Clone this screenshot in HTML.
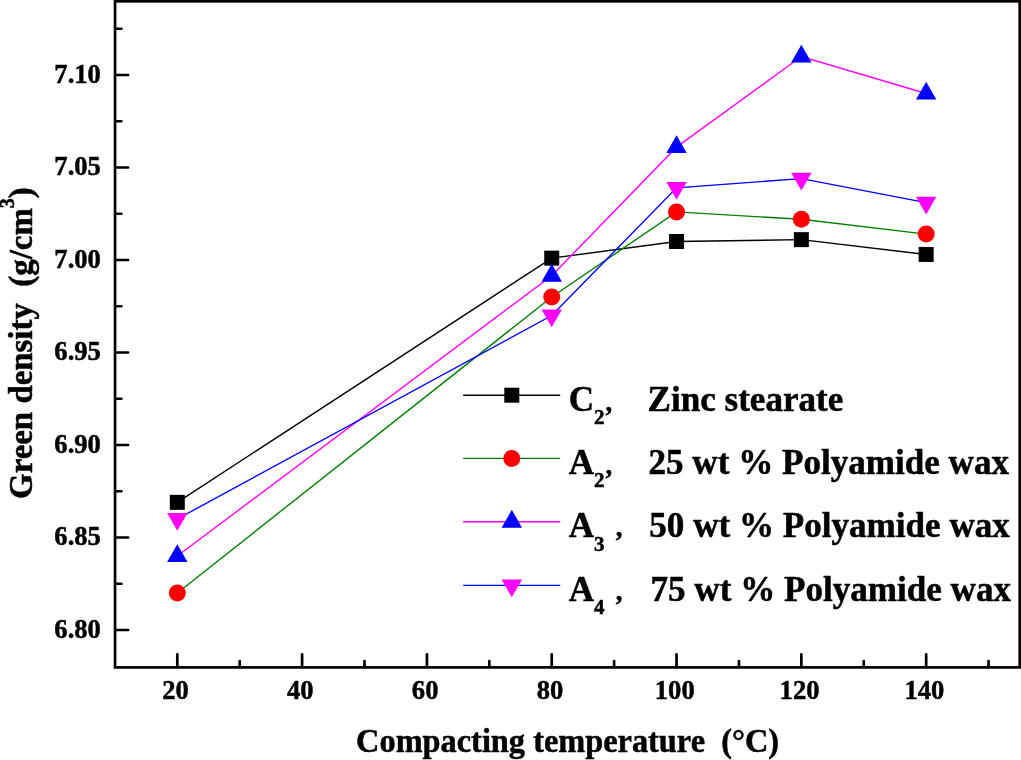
<!DOCTYPE html>
<html lang="en"><head><meta charset="utf-8"><title>Green density vs compacting temperature</title>
<style>
html,body{margin:0;padding:0;background:#fff;}
body{width:1021px;height:760px;overflow:hidden;}
svg{display:block;}
text{font-family:"Liberation Serif","Times New Roman",serif;font-weight:bold;fill:#000;stroke:#000;stroke-width:0.5px;stroke-linejoin:round;}
.tk{font-size:28px;}
.lg{font-size:35.08px;}
.sb{font-size:21px;}
</style></head><body>
<svg width="1021" height="760" viewBox="0 0 1021 760">
<rect width="1021" height="760" fill="#fff"/>
<polyline points="177.30,502.35 551.73,258.15 676.54,241.50 801.35,239.65 926.16,254.45" fill="none" stroke="#000" stroke-width="1.4"/>
<rect x="169.80" y="494.85" width="15.0" height="15.0" fill="#000"/>
<rect x="544.23" y="250.65" width="15.0" height="15.0" fill="#000"/>
<rect x="669.04" y="234.00" width="15.0" height="15.0" fill="#000"/>
<rect x="793.85" y="232.15" width="15.0" height="15.0" fill="#000"/>
<rect x="918.66" y="246.95" width="15.0" height="15.0" fill="#000"/>
<polyline points="177.30,593.00 551.73,297.00 676.54,211.90 801.35,219.30 926.16,234.10" fill="none" stroke="#008000" stroke-width="1.4"/>
<circle cx="177.30" cy="593.00" r="8.5" fill="#ff0000"/>
<circle cx="551.73" cy="297.00" r="8.5" fill="#ff0000"/>
<circle cx="676.54" cy="211.90" r="8.5" fill="#ff0000"/>
<circle cx="801.35" cy="219.30" r="8.5" fill="#ff0000"/>
<circle cx="926.16" cy="234.10" r="8.5" fill="#ff0000"/>
<polyline points="177.30,556.00 551.73,275.72 676.54,147.15 801.35,56.50 926.16,93.50" fill="none" stroke="#ff00ff" stroke-width="1.4"/>
<polygon points="167.10,561.93 187.50,561.93 177.30,544.13" fill="#0000ff"/>
<polygon points="541.53,281.66 561.93,281.66 551.73,263.86" fill="#0000ff"/>
<polygon points="666.34,153.08 686.74,153.08 676.54,135.28" fill="#0000ff"/>
<polygon points="791.15,62.43 811.55,62.43 801.35,44.63" fill="#0000ff"/>
<polygon points="915.96,99.43 936.36,99.43 926.16,81.63" fill="#0000ff"/>
<polyline points="177.30,519.00 551.73,315.50 676.54,187.85 801.35,178.60 926.16,202.65" fill="none" stroke="#0000ff" stroke-width="1.4"/>
<polygon points="167.10,513.07 187.50,513.07 177.30,530.87" fill="#ff00ff"/>
<polygon points="541.53,309.57 561.93,309.57 551.73,327.37" fill="#ff00ff"/>
<polygon points="666.34,181.92 686.74,181.92 676.54,199.72" fill="#ff00ff"/>
<polygon points="791.15,172.67 811.55,172.67 801.35,190.47" fill="#ff00ff"/>
<polygon points="915.96,196.72 936.36,196.72 926.16,214.52" fill="#ff00ff"/>
<rect x="115.05" y="1.3" width="904.65" height="666.10" fill="none" stroke="#000" stroke-width="2.7"/>
<path d="M177.30,666.8 v-12.45 M239.71,666.8 v-5.75 M302.11,666.8 v-12.45 M364.51,666.8 v-5.75 M426.92,666.8 v-12.45 M489.32,666.8 v-5.75 M551.73,666.8 v-12.45 M614.13,666.8 v-5.75 M676.54,666.8 v-12.45 M738.94,666.8 v-5.75 M801.35,666.8 v-12.45 M863.76,666.8 v-5.75 M926.16,666.8 v-12.45 M988.57,666.8 v-5.75 M115.64999999999999,630.00 h12.45 M115.64999999999999,583.75 h5.75 M115.64999999999999,537.50 h12.45 M115.64999999999999,491.25 h5.75 M115.64999999999999,445.00 h12.45 M115.64999999999999,398.75 h5.75 M115.64999999999999,352.50 h12.45 M115.64999999999999,306.25 h5.75 M115.64999999999999,260.00 h12.45 M115.64999999999999,213.75 h5.75 M115.64999999999999,167.50 h12.45 M115.64999999999999,121.25 h5.75 M115.64999999999999,75.00 h12.45 M115.64999999999999,28.75 h5.75" fill="none" stroke="#000" stroke-width="2.7" stroke-linecap="round"/>
<text class="tk" transform="translate(175.50,698.6) scale(0.95,1)" text-anchor="middle">20</text>
<text class="tk" transform="translate(300.31,698.6) scale(0.95,1)" text-anchor="middle">40</text>
<text class="tk" transform="translate(425.12,698.6) scale(0.95,1)" text-anchor="middle">60</text>
<text class="tk" transform="translate(549.93,698.6) scale(0.95,1)" text-anchor="middle">80</text>
<text class="tk" transform="translate(674.74,698.6) scale(0.95,1)" text-anchor="middle">100</text>
<text class="tk" transform="translate(799.55,698.6) scale(0.95,1)" text-anchor="middle">120</text>
<text class="tk" transform="translate(924.36,698.6) scale(0.95,1)" text-anchor="middle">140</text>
<text class="tk" transform="translate(100.9,637.70) scale(0.95,1)" text-anchor="end">6.80</text>
<text class="tk" transform="translate(100.9,545.20) scale(0.95,1)" text-anchor="end">6.85</text>
<text class="tk" transform="translate(100.9,452.70) scale(0.95,1)" text-anchor="end">6.90</text>
<text class="tk" transform="translate(100.9,360.20) scale(0.95,1)" text-anchor="end">6.95</text>
<text class="tk" transform="translate(100.9,267.70) scale(0.95,1)" text-anchor="end">7.00</text>
<text class="tk" transform="translate(100.9,175.20) scale(0.95,1)" text-anchor="end">7.05</text>
<text class="tk" transform="translate(100.9,82.70) scale(0.95,1)" text-anchor="end">7.10</text>
<text transform="translate(356.1,752.2) scale(1,1.035)" font-size="32.36" xml:space="preserve" style="white-space:pre">Compacting temperature  (°C)</text>
<text transform="translate(31.8,498.9) rotate(-90) scale(1,1.04)" font-size="32.9" xml:space="preserve" style="white-space:pre">Green density  (g/cm<tspan font-size="20" dy="-17.2">3</tspan><tspan dy="17.2">)</tspan></text>
<line x1="463.2" y1="395.2" x2="560.2" y2="395.2" stroke="#000" stroke-width="1.4"/>
<rect x="504.30" y="387.70" width="15.0" height="15.0" fill="#000"/>
<text class="lg" x="568.7" y="410.60">C<tspan class="sb" dy="13">2</tspan><tspan dy="-13.0" dx="1.0" font-size="26.5">,</tspan></text>
<text class="lg" x="647.5" y="410.60">Zinc stearate</text>
<line x1="463.2" y1="458.4" x2="560.2" y2="458.4" stroke="#008000" stroke-width="1.4"/>
<circle cx="511.80" cy="458.40" r="8.5" fill="#ff0000"/>
<text class="lg" x="568.7" y="473.80">A<tspan class="sb" dy="13">2</tspan><tspan dy="-13.0" dx="1.0" font-size="26.5">,</tspan></text>
<text class="lg" x="648.5" y="473.80">25 wt % Polyamide wax</text>
<line x1="463.2" y1="521.7" x2="560.2" y2="521.7" stroke="#ff00ff" stroke-width="1.4"/>
<polygon points="501.60,527.63 522.00,527.63 511.80,509.83" fill="#0000ff"/>
<text class="lg" x="568.7" y="537.10">A<tspan class="sb" dy="13.5">3</tspan><tspan dy="-14.5" dx="11.2" font-size="26.5">,</tspan></text>
<text class="lg" x="649.3" y="537.10">50 wt % Polyamide wax</text>
<line x1="463.2" y1="585.4" x2="560.2" y2="585.4" stroke="#0000ff" stroke-width="1.4"/>
<polygon points="501.60,579.47 522.00,579.47 511.80,597.27" fill="#ff00ff"/>
<text class="lg" x="568.7" y="600.80">A<tspan class="sb" dy="13.5">4</tspan><tspan dy="-14.5" dx="11.2" font-size="26.5">,</tspan></text>
<text class="lg" x="650.5" y="600.80">75 wt % Polyamide wax</text>
</svg></body></html>
